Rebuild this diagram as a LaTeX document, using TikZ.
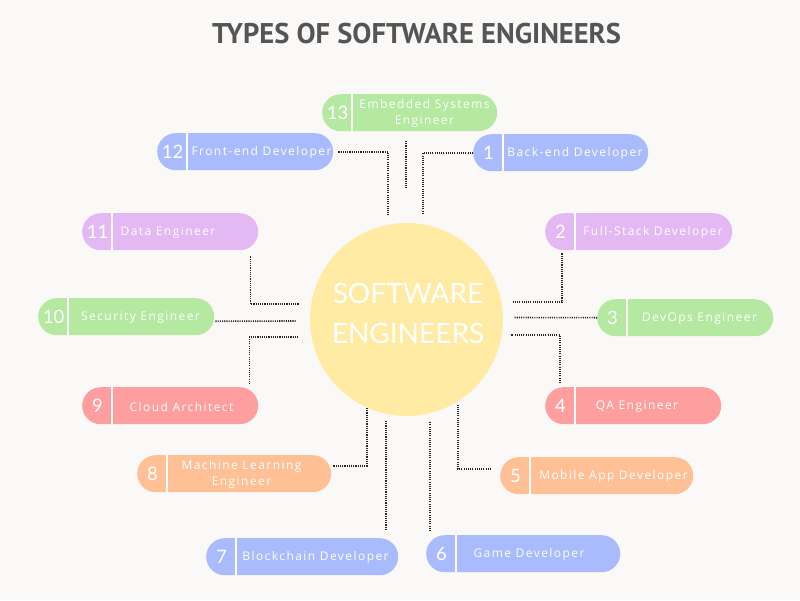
\documentclass[tikz,border=0pt]{standalone}
\usepackage{fontspec}
\setmainfont{Open Sans}
\newfontfamily\titlefont{PT Sans}
\newfontfamily\pillfont{Open Sans}[LetterSpace=12]
\newfontfamily\numfont{Lato}
\newfontfamily\hubfont{Lato}
\usetikzlibrary{calc}
\definecolor{bgc}{HTML}{FAF9F7}
\definecolor{greenc}{HTML}{B5E8A0}
\definecolor{bluec}{HTML}{A9BBFD}
\definecolor{purplec}{HTML}{E4B8F2}
\definecolor{redc}{HTML}{FF9E9E}
\definecolor{orangec}{HTML}{FFC096}
\definecolor{yellowc}{HTML}{FFEBA3}
\definecolor{titlec}{HTML}{555555}
\tikzset{
  pillbox/.style={rectangle, rounded corners=18.5pt, minimum height=37pt, inner sep=0pt, draw=none},
  divider/.style={draw=white, line width=1.6pt},
  numtext/.style={text=white, inner sep=0pt, font=\numfont\fontsize{18.5}{20}\selectfont},
  labtext/.style={text=white, inner sep=0pt, align=center, font=\pillfont\fontsize{12}{16}\selectfont},
  conn/.style={draw=black!85, line width=1.6pt, dash pattern=on 1.1pt off 1.1pt},
  hubtext/.style={text=white, inner sep=0pt, align=center, font=\hubfont\fontsize{28}{40}\selectfont},
  titletext/.style={text=titlec, inner sep=0pt, font=\titlefont\bfseries\fontsize{28.5}{32}\selectfont}
}
\newcommand\mypill[8]{%
  \node[pillbox, fill=#5, minimum width=#4pt, anchor=north west] (#1) at (#2,#3) {};
  \draw[divider] ([xshift=30pt]#1.north west) -- ([xshift=30pt]#1.south west);
  \node[numtext] (#1n) at ([xshift=15.5pt]#1.west) {#6};
  \node[labtext] (#1t) at ([shift={(#8,1)}]#1.west) {#7};
}
\begin{document}
\begin{tikzpicture}[x=1pt,y=-1pt]
\useasboundingbox[fill=bgc] (0,0) rectangle (800,600);
\node[titletext] (title) at (416.5,33.5) {TYPES OF SOFTWARE ENGINEERS};
% hub
\node[circle, fill=yellowc, minimum size=193pt, inner sep=0pt] (hub) at (406.5,319.5) {};
\node[hubtext] (hubt) at (408,313) {SOFTWARE\\ENGINEERS};
% pills
\mypill{p13}{322}{94}{175}{greenc}{13}{Embedded Systems\\Engineer}{102.5}
\mypill{p12}{157}{133}{176}{bluec}{12}{Front-end Developer}{104.5}
\mypill{p1}{473}{134}{175}{bluec}{1}{Back-end Developer}{102}
\mypill{p11}{82}{213}{176}{purplec}{11}{Data Engineer}{86}
\mypill{p2}{545}{213}{187}{purplec}{2}{Full-Stack Developer}{108}
\mypill{p10}{38}{298}{176}{greenc}{10}{Security Engineer}{102.5}
\mypill{p3}{597}{299}{176}{greenc}{3}{DevOps Engineer}{102.5}
\mypill{p9}{82}{387}{176}{redc}{9}{Cloud Architect}{99.5}
\mypill{p4}{545}{387}{176}{redc}{4}{QA Engineer}{92}
\mypill{p8}{137}{455}{194}{orangec}{8}{Machine Learning\\Engineer}{104.5}
\mypill{p5}{500}{457}{193}{orangec}{5}{Mobile App Developer}{113.5}
\mypill{p7}{206}{538}{192}{bluec}{7}{Blockchain Developer}{109.5}
\mypill{p6}{426}{535}{194}{bluec}{6}{Game Developer}{103}
% connector free ends
\coordinate (c12) at (388,215);
\coordinate (c13a) at (406,141);
\coordinate (c13b) at (406,188);
\coordinate (c1) at (423,213);
\coordinate (c11) at (299,304);
\coordinate (c10) at (296,321);
\coordinate (c9) at (298,337);
\coordinate (c2) at (513,302);
\coordinate (c3) at (514,317.5);
\coordinate (c4) at (511,335);
\coordinate (c8) at (367,408);
\coordinate (c7a) at (386,421);
\coordinate (c7b) at (386,530);
\coordinate (c6) at (430,421);
\coordinate (c5) at (458,405);
% connectors
\draw[conn] ([xshift=5pt]p12.east) -| (c12);
\draw[conn] (c13a) -- (c13b);
\draw[conn] (p1.west) -| (c1);
\draw[conn] ([shift={(-8,6)}]p11.south east) |- (c11);
\draw[conn] ([shift={(1,4.5)}]p10.east) -- (c10);
\draw[conn] ([shift={(-9,-3)}]p9.north east) |- (c9);
\draw[conn] ([shift={(17,3)}]p2.south west) |- (c2);
\draw[conn] (p3.west) -- (c3);
\draw[conn] ([shift={(15,-4)}]p4.north west) |- (c4);
\draw[conn] ([shift={(2,-8)}]p8.east) -| (c8);
\draw[conn] (c7a) -- (c7b);
\draw[conn] ([shift={(4,-4)}]p6.north west) -- (c6);
\draw[conn] ([shift={(-9,-6.5)}]p5.west) -| (c5);
\end{tikzpicture}
\end{document}
